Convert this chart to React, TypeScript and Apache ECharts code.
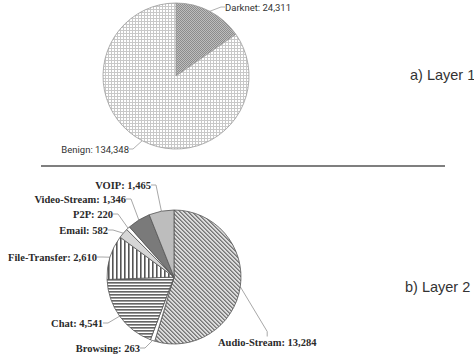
import React, { useEffect, useRef } from "react";
import * as echarts from "echarts";

// ---- data ----
const layer1Names = ["Darknet", "Benign"];
const layer1Values = [24311, 134348];
const layer2Names = ["Audio-Stream", "Browsing", "Chat", "File-Transfer", "Email", "P2P", "Video-Stream", "VOIP"];
const layer2Values = [13284, 263, 4541, 2610, 582, 220, 1346, 1465];
const panelTitles = ["a) Layer 1", "b) Layer 2"];

// ---- label anchor layout (pixels) ----
const layer1LabelPos: [number, number, string][] = [
  [225, 7, "left"],
  [129, 149, "right"],
];
const layer2LabelPos: [number, number, string][] = [
  [218, 342, "left"],
  [140, 348, "right"],
  [103, 323, "right"],
  [97, 257, "right"],
  [108, 230, "right"],
  [113, 214, "right"],
  [126, 199, "right"],
  [151, 185, "right"],
];

function makeCanvas(size: number, fn: (x: number, y: number) => string) {
  const c = document.createElement("canvas");
  c.width = size;
  c.height = size;
  const ctx = c.getContext("2d")!;
  for (let y = 0; y < size; y++) {
    for (let x = 0; x < size; x++) {
      ctx.fillStyle = fn(x, y);
      ctx.fillRect(x, y, 1, 1);
    }
  }
  return { image: c, repeat: "repeat" } as any;
}

const fmt = (v: number) => v.toLocaleString("en-US");

export default function App() {
  const ref = useRef<HTMLDivElement>(null);
  useEffect(() => {
    if (!ref.current) return;
    const chart = echarts.init(ref.current, null, { renderer: "svg" });

    const benignPat = makeCanvas(3, (x, y) => (x === 0 || y === 0 ? "#c8c8c8" : "#ffffff"));
    const darknetPat = makeCanvas(2, (x, y) => ((x + y) % 2 === 0 ? "#8c8c8c" : "#bdbdbd"));
    const audioPat = makeCanvas(4, (x, y) => {
      const d = (((x - y) % 4) + 4) % 4;
      return d === 0 ? "#777777" : d === 1 ? "#9a9a9a" : "#dcdcdc";
    });
    const chatPat = makeCanvas(3, (x, y) => (y === 0 ? "#666666" : y === 1 ? "#9c9c9c" : "#ffffff"));
    const filePat = makeCanvas(4, (x, y) => (x === 0 ? "#555555" : x === 1 ? "#999999" : "#ffffff"));

    const layer2Colors = [audioPat, "#ffffff", chatPat, filePat, "#d6d6d6", "#ffffff", "#7a7a7a", "#bdbdbd"];
    const layer1Colors = [darknetPat, benignPat];

    const mkLayout = (pos: [number, number, string][]) => (params: any) => {
      const p = pos[params.dataIndex];
      return { x: p[0], y: p[1], align: p[2], verticalAlign: "middle" };
    };

    chart.setOption({
      animation: false,
      graphic: [
        {
          type: "line",
          shape: { x1: 41, y1: 166, x2: 445, y2: 166 },
          style: { stroke: "#555555", lineWidth: 1.5 },
        },
        {
          type: "text",
          x: 410,
          y: 75,
          style: {
            text: panelTitles[0],
            font: "14.5px 'Liberation Sans', Arial, sans-serif",
            fill: "#333333",
            verticalAlign: "middle",
          },
        },
        {
          type: "text",
          x: 405,
          y: 287,
          style: {
            text: panelTitles[1],
            font: "14.5px 'Liberation Sans', Arial, sans-serif",
            fill: "#333333",
            verticalAlign: "middle",
          },
        },
      ],
      series: [
        {
          type: "pie",
          center: [176, 76],
          radius: 73,
          startAngle: 90,
          clockwise: true,
          avoidLabelOverlap: false,
          emphasis: { disabled: true },
          data: layer1Names.map((n, i) => ({
            name: n,
            value: layer1Values[i],
            itemStyle: { color: layer1Colors[i] },
          })),
          itemStyle: { borderColor: "#9a9a9a", borderWidth: 0.8 },
          label: {
            show: true,
            formatter: (p: any) => `${p.name}: ${fmt(p.value)}`,
            fontFamily: "Roboto, 'Liberation Sans', sans-serif",
            fontSize: 9.5,
            color: "#333333",
          },
          labelLine: { show: true, length: 6, length2: 4, lineStyle: { color: "#b0b0b0", width: 1 } },
          labelLayout: mkLayout(layer1LabelPos),
        },
        {
          type: "pie",
          center: [174, 277],
          radius: 67,
          startAngle: 90,
          clockwise: true,
          avoidLabelOverlap: false,
          emphasis: { disabled: true },
          data: layer2Names.map((n, i) => ({
            name: n,
            value: layer2Values[i],
            itemStyle: { color: layer2Colors[i] },
          })),
          itemStyle: { borderColor: "#555555", borderWidth: 0.8 },
          label: {
            show: true,
            formatter: (p: any) => `${p.name}: ${fmt(p.value)}`,
            fontFamily: "'Liberation Serif', 'DejaVu Serif', serif",
            fontWeight: "bold",
            fontSize: 10.5,
            color: "#2a2a2a",
          },
          labelLine: { show: true, length: 6, length2: 5, lineStyle: { color: "#a8a8a8", width: 1 } },
          labelLayout: mkLayout(layer2LabelPos),
        },
      ],
    });
    return () => chart.dispose();
  }, []);
  return (
    <div
      ref={ref}
      style={{ position: "fixed", left: 0, top: 0, width: 474, height: 359, background: "#ffffff" }}
    />
  );
}
